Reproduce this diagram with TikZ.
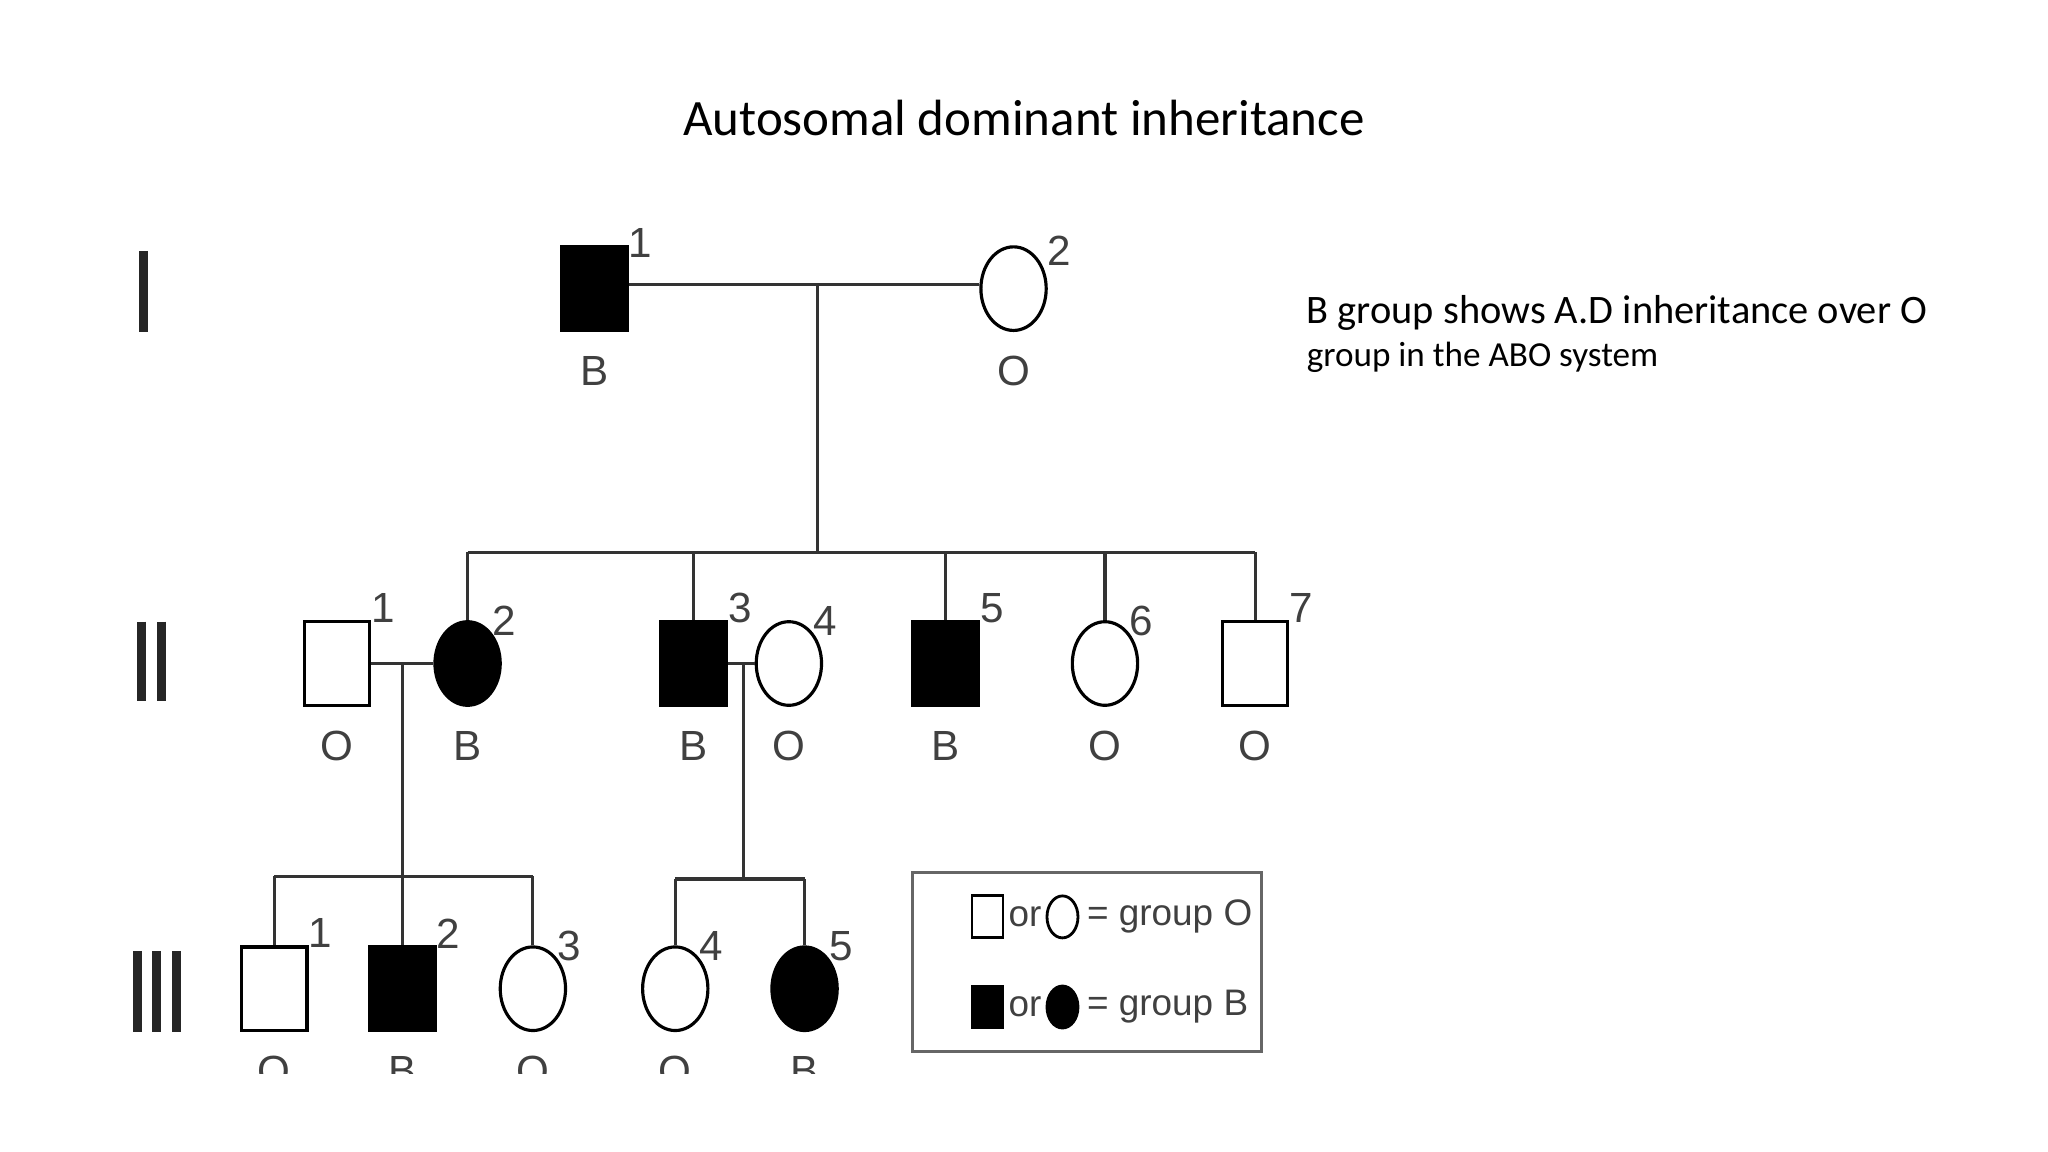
\documentclass[tikz,border=0pt]{standalone}
\usepackage{fontspec}
\setmainfont{Carlito}
\newfontfamily\pedfont{Liberation Sans}
\usetikzlibrary{shapes.geometric}
\usetikzlibrary{positioning}
\begin{document}
\begin{tikzpicture}[x=0.01306cm,y=-0.01306cm,
    male/.style={draw,line width=0.9pt,rectangle,minimum width=0.653cm,minimum height=0.836cm,inner sep=0pt},
    female/.style={draw,line width=0.9pt,ellipse,minimum width=0.653cm,minimum height=0.836cm,inner sep=0pt},
    aff/.style={fill=black},
    lab/.style={font=\pedfont\fontsize{12}{12}\selectfont,text=black!75,inner sep=1pt},
    num/.style={font=\pedfont\fontsize{12}{12}\selectfont,text=black!75,inner sep=0pt},
    line/.style={line width=0.9pt,black!80},
    gen/.style={line width=0.09cm,black!85}]
    \useasboundingbox (0,0) rectangle (1568,882);
    \begin{scope}
    \clip (0,0) rectangle (1568,822);

    % title and note
    \node (title) at (784,90) {\fontsize{14.5}{16}\selectfont Autosomal dominant inheritance};
    \node[anchor=north west,align=left,inner sep=0pt] (note) at (1000,226)
        {\fontsize{11.5}{15.3}\selectfont B group shows A.D inheritance over O\\group in the ABO system};

    % generation marks
    \draw[gen] (110,192) -- (110,254);
    \draw[gen] (108,476) -- (108,537);
    \draw[gen] (124,476) -- (124,537);
    \draw[gen] (105,728) -- (105,790);
    \draw[gen] (120,728) -- (120,790);
    \draw[gen] (135,728) -- (135,790);

    % generation I
    \node[male,aff] (i1) at (455,221) {};
    \node[female] (i2) at (776,221) {};
    \node[lab,below=0.2cm of i1] {B};
    \node[lab,below=0.2cm of i2] {O};
    \node[num] at (490,186) {1};
    \node[num] at (811,192) {2};

    % generation II
    \node[male] (ii1) at (258,508) {};
    \node[female,aff] (ii2) at (358,508) {};
    \node[male,aff] (ii3) at (531,508) {};
    \node[female] (ii4) at (604,508) {};
    \node[male,aff] (ii5) at (724,508) {};
    \node[female] (ii6) at (846,508) {};
    \node[male] (ii7) at (961,508) {};
    \foreach \n/\t [count=\k] in {ii1/O,ii2/B,ii3/B,ii4/O,ii5/B,ii6/O,ii7/O}{
        \node[lab,below=0.2cm of \n] {\t};
        \node[num] at ([xshift=0.12cm,yshift=0.12cm]\n.north east) {\k};
    }

    % generation III
    \node[male] (iii1) at (210,757) {};
    \node[male,aff] (iii2) at (308,757) {};
    \node[female] (iii3) at (408,757) {};
    \node[female] (iii4) at (517,757) {};
    \node[female,aff] (iii5) at (616,757) {};
    \foreach \n/\t [count=\k] in {iii1/O,iii2/B,iii3/O,iii4/O,iii5/B}{
        \node[lab,below=0.2cm of \n] {\t};
        \node[num] at ([xshift=0.12cm,yshift=0.12cm]\n.north east) {\k};
    }

    % family lines
    \coordinate (m1) at (626,218);
    \coordinate (s1) at (626,423);
    \draw[line] (i1.east|-m1) -- (i2.west|-m1);
    \draw[line] (m1) -- (s1);
    \draw[line] (ii2.north|-s1) -- (ii7.north|-s1);
    \foreach \n in {ii2,ii3,ii5,ii6,ii7}
        \draw[line] (\n.north|-s1) -- (\n.north);

    \coordinate (m2) at (308,508);
    \coordinate (s2) at (308,671);
    \draw[line] (ii1.east) -- (ii2.west);
    \draw[line] (m2) -- (s2);
    \draw[line] (iii1.north|-s2) -- (iii3.north|-s2);
    \foreach \n in {iii1,iii2,iii3}
        \draw[line] (\n.north|-s2) -- (\n.north);

    \coordinate (m3) at (569,508);
    \coordinate (s3) at (569,673);
    \draw[line] (ii3.east) -- (ii4.west);
    \draw[line] (m3) -- (s3);
    \draw[line] (iii4.north|-s3) -- (iii5.north|-s3);
    \foreach \n in {iii4,iii5}
        \draw[line] (\n.north|-s3) -- (\n.north);
    \end{scope}

    % key
    \node[draw,black!60,line width=0.8pt,minimum width=3.49cm,minimum height=1.79cm] (key) at (832.5,736.5) {};
    \tikzset{ksq/.style={draw,line width=0.8pt,minimum width=0.31cm,minimum height=0.42cm,inner sep=0pt},
             kci/.style={draw,line width=0.8pt,ellipse,minimum width=0.31cm,minimum height=0.42cm,inner sep=0pt},
             ktx/.style={font=\pedfont\fontsize{10.5}{10.5}\selectfont,text=black!75,inner sep=1pt}}
    \node[ksq] (ko1) at (756,702) {};
    \node[ktx,right=0pt of ko1] (kor1) {or};
    \node[kci,right=0pt of kor1] (ko2) {};
    \node[ktx,right=1pt of ko2] {= group O};
    \node[ksq,fill=black] (kb1) at (756,771) {};
    \node[ktx,right=0pt of kb1] (kor2) {or};
    \node[kci,fill=black,right=0pt of kor2] (kb2) {};
    \node[ktx,right=1pt of kb2] {= group B};
\end{tikzpicture}
\end{document}
